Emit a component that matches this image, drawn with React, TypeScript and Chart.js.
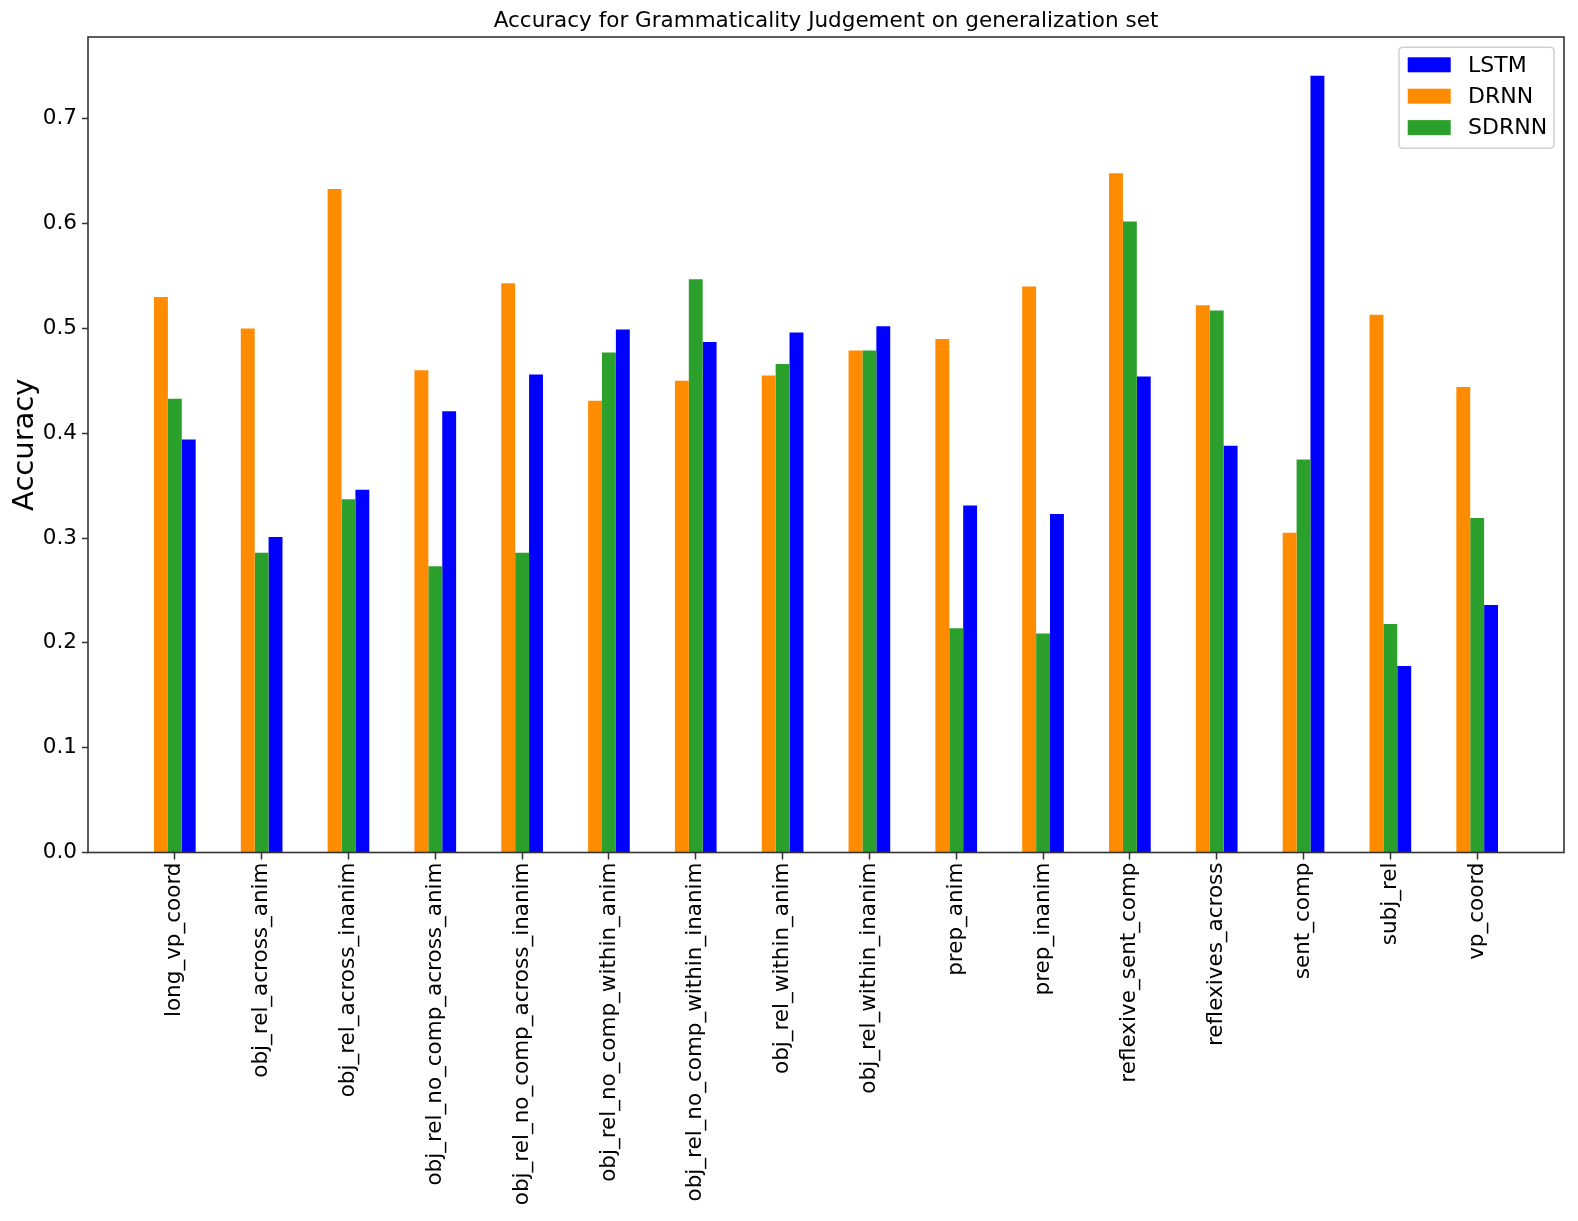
import React, { useEffect, useRef } from 'react';
import { Chart, registerables } from 'chart.js';

Chart.register(...registerables);

const chartTitle = 'Accuracy for Grammaticality Judgement on generalization set';
const yAxisLabel = 'Accuracy';

const categories = [
  'long_vp_coord',
  'obj_rel_across_anim',
  'obj_rel_across_inanim',
  'obj_rel_no_comp_across_anim',
  'obj_rel_no_comp_across_inanim',
  'obj_rel_no_comp_within_anim',
  'obj_rel_no_comp_within_inanim',
  'obj_rel_within_anim',
  'obj_rel_within_inanim',
  'prep_anim',
  'prep_inanim',
  'reflexive_sent_comp',
  'reflexives_across',
  'sent_comp',
  'subj_rel',
  'vp_coord',
];

const drnnValues = [0.530, 0.500, 0.633, 0.460, 0.543, 0.431, 0.450, 0.455, 0.479, 0.490, 0.540, 0.648, 0.522, 0.305, 0.513, 0.444];
const sdrnnValues = [0.433, 0.286, 0.337, 0.273, 0.286, 0.477, 0.547, 0.466, 0.479, 0.214, 0.209, 0.602, 0.517, 0.375, 0.218, 0.319];
const lstmValues = [0.394, 0.301, 0.346, 0.421, 0.456, 0.499, 0.487, 0.496, 0.502, 0.331, 0.323, 0.454, 0.388, 0.741, 0.178, 0.236];

const seriesNames = ['DRNN', 'SDRNN', 'LSTM'];
const seriesColors = ['#ff8c00', '#2ca02c', '#0000ff'];
const legendOrder = ['LSTM', 'DRNN', 'SDRNN'];

const yMin = 0;
const yMax = 0.778;
const yStep = 0.1;

const FONT = "'DejaVu Sans', sans-serif";
const AXIS_COLOR = '#333333';

const framePlugin = {
  id: 'frame',
  afterDatasetsDraw(chart: any) {
    const { ctx, chartArea: a } = chart;
    ctx.save();
    ctx.strokeStyle = AXIS_COLOR;
    ctx.lineWidth = 1.6;
    ctx.strokeRect(a.left, a.top, a.right - a.left, a.bottom - a.top);
    ctx.restore();
  },
};

const titlePlugin = {
  id: 'axesTitle',
  afterDraw(chart: any) {
    const { ctx, chartArea: a } = chart;
    ctx.save();
    ctx.fillStyle = '#000';
    ctx.font = `21.5px ${FONT}`;
    ctx.textAlign = 'center';
    ctx.textBaseline = 'middle';
    ctx.fillText(chartTitle, (a.left + a.right) / 2, 21);
    ctx.restore();
  },
};

const legendPlugin = {
  id: 'boxLegend',
  afterDraw(chart: any) {
    const { ctx, chartArea: a } = chart;
    const boxW = 155;
    const boxH = 101;
    const boxRight = a.right - 10;
    const boxLeft = boxRight - boxW;
    const boxTop = a.top + 10.3;
    const r = 4;
    ctx.save();
    ctx.beginPath();
    ctx.moveTo(boxLeft + r, boxTop);
    ctx.lineTo(boxRight - r, boxTop);
    ctx.quadraticCurveTo(boxRight, boxTop, boxRight, boxTop + r);
    ctx.lineTo(boxRight, boxTop + boxH - r);
    ctx.quadraticCurveTo(boxRight, boxTop + boxH, boxRight - r, boxTop + boxH);
    ctx.lineTo(boxLeft + r, boxTop + boxH);
    ctx.quadraticCurveTo(boxLeft, boxTop + boxH, boxLeft, boxTop + boxH - r);
    ctx.lineTo(boxLeft, boxTop + r);
    ctx.quadraticCurveTo(boxLeft, boxTop, boxLeft + r, boxTop);
    ctx.closePath();
    ctx.fillStyle = 'rgba(255,255,255,0.8)';
    ctx.fill();
    ctx.strokeStyle = '#d0d0d0';
    ctx.lineWidth = 1.5;
    ctx.stroke();

    ctx.font = `22px ${FONT}`;
    ctx.textAlign = 'left';
    ctx.textBaseline = 'middle';
    legendOrder.forEach((name, i) => {
      const ds = chart.data.datasets.find((d: any) => d.label === name);
      if (!ds) return;
      const cy = boxTop + 17.5 + i * 31.4;
      ctx.fillStyle = ds.backgroundColor;
      ctx.fillRect(boxLeft + 8.7, cy - 7.5, 43, 15);
      ctx.fillStyle = '#000';
      ctx.fillText(name, boxLeft + 69, cy + 1);
    });
    ctx.restore();
  },
};

export default function App() {
  const canvasRef = useRef<HTMLCanvasElement>(null);

  useEffect(() => {
    if (!canvasRef.current) return;
    const labels = ['', ...categories, ''];
    const padded = (arr: number[]) => [null, ...arr, null];
    const valueSets = [drnnValues, sdrnnValues, lstmValues];
    const lastIndex = labels.length - 1;

    const chart = new Chart(canvasRef.current, {
      type: 'bar',
      data: {
        labels,
        datasets: seriesNames.map((name, i) => ({
          label: name,
          data: padded(valueSets[i]) as any,
          backgroundColor: seriesColors[i],
          borderWidth: 0,
          categoryPercentage: 0.48,
          barPercentage: 1.0,
        })),
      },
      options: {
        responsive: false,
        animation: false,
        devicePixelRatio: 1,
        layout: { padding: { top: 37, right: 14, left: 0, bottom: 0 } },
        plugins: {
          legend: { display: false },
          title: { display: false },
          tooltip: { enabled: false },
        },
        scales: {
          x: {
            type: 'category',
            offset: false,
            grid: {
              display: true,
              offset: false,
              drawOnChartArea: false,
              drawTicks: true,
              tickLength: 7,
              tickWidth: 1.5,
              tickColor: (c: any) => (c.index === 0 || c.index === lastIndex ? 'rgba(0,0,0,0)' : AXIS_COLOR),
            },
            border: { display: false },
            ticks: {
              autoSkip: false,
              maxRotation: 90,
              minRotation: 90,
              padding: 3,
              color: '#000',
              font: { family: FONT, size: 21.5 },
            },
            afterFit: (s: any) => {
              s.height = 368.5;
              s.paddingLeft = 0;
              s.paddingRight = 0;
            },
          },
          y: {
            min: yMin,
            max: yMax,
            grid: {
              drawOnChartArea: false,
              drawTicks: true,
              tickLength: 6,
              tickWidth: 1.5,
              tickColor: AXIS_COLOR,
            },
            border: { display: false },
            ticks: {
              stepSize: yStep,
              includeBounds: false,
              padding: 5,
              color: '#000',
              font: { family: FONT, size: 21.5 },
              callback: (v: any) => Number(v).toFixed(1),
            },
            title: {
              display: true,
              text: yAxisLabel,
              color: '#000',
              font: { family: FONT, size: 29 },
              padding: { top: 8, bottom: 0 },
            },
            afterFit: (s: any) => {
              s.width = 88;
              s.paddingTop = 0;
              s.paddingBottom = 0;
            },
          },
        },
      } as any,
      plugins: [framePlugin, titlePlugin, legendPlugin],
    });

    return () => chart.destroy();
  }, []);

  return (
    <div style={{ position: 'fixed', left: 0, top: 0, width: 1578, height: 1221, background: '#fff' }}>
      <canvas ref={canvasRef} width={1578} height={1221} style={{ display: 'block' }} />
    </div>
  );
}
